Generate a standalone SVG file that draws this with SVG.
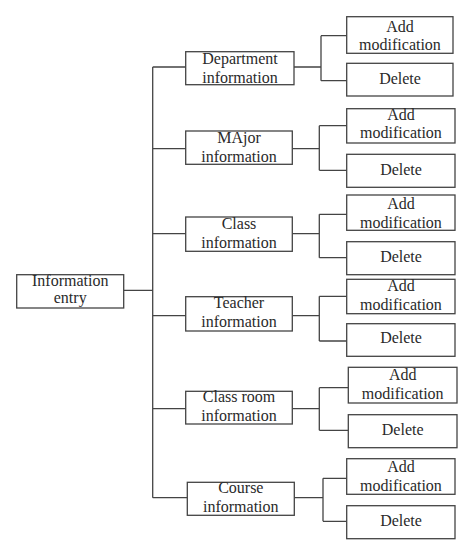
<svg xmlns="http://www.w3.org/2000/svg" width="474" height="556" viewBox="0 0 474 556">
<style>
rect{fill:#fff;stroke:#444;stroke-width:1.3}
text{font-family:"Liberation Serif","Times New Roman",serif;font-size:16px;fill:#2a2a2a;text-anchor:middle}
.c{fill:none;stroke:#444;stroke-width:1.3}
</style>
<rect width="474" height="556" style="stroke:none"/>
<g id="connectors">
<path class="c" d="M124 290.3H152.7M152.7 67V497.7M152.7 67H186M152.7 148.7H186M152.7 233.7H186M152.7 315.7H186M152.7 408.7H186M152.7 497.7H187.3"/>
<path class="c" d="M294 67H321M321 35.7V80.7M321 35.7H347M321 80.7H347"/>
<path class="c" d="M292.3 148.7H319.3M319.3 125.7V170.3M319.3 125.7H347M319.3 170.3H347"/>
<path class="c" d="M292.3 233.7H319.3M319.3 214.3V257.7M319.3 214.3H347M319.3 257.7H347"/>
<path class="c" d="M292.3 315.7H319.3M319.3 296.3V341M319.3 296.3H347M319.3 341H347"/>
<path class="c" d="M292.3 408.7H319.3M319.3 387.7V430.3M319.3 387.7H348.3M319.3 430.3H348.3"/>
<path class="c" d="M294.3 497.7H323M323 478.3V521.3M323 478.3H346.7M323 521.3H346.7"/>
</g>
<g id="info-entry"><rect x="16.7" y="274.7" width="107" height="33.3"/><text x="70.2" y="286">Information</text><text x="70.2" y="303.3">entry</text></g>
<g id="department"><rect x="185.7" y="51.7" width="108.3" height="33"/><text x="240" y="64.3">Department</text><text x="240" y="82.7">information</text></g>
<g id="department-add"><rect x="346.7" y="16.7" width="106.3" height="36.6"/><text x="400" y="31.7">Add</text><text x="400" y="50">modification</text></g>
<g id="department-delete"><rect x="346.7" y="63.3" width="106.3" height="32.7"/><text x="400" y="84">Delete</text></g>
<g id="major"><rect x="185.7" y="131" width="106.6" height="33.3"/><text x="239" y="143.3">MAjor</text><text x="239" y="161.7">information</text></g>
<g id="major-add"><rect x="346.7" y="108.7" width="108.3" height="34.3"/><text x="401" y="120">Add</text><text x="401" y="138.3">modification</text></g>
<g id="major-delete"><rect x="346.7" y="154.3" width="108.3" height="33"/><text x="401" y="175">Delete</text></g>
<g id="class"><rect x="185.7" y="217" width="106.6" height="34.3"/><text x="239" y="229">Class</text><text x="239" y="248">information</text></g>
<g id="class-add"><rect x="346.7" y="195" width="108.3" height="35.3"/><text x="401" y="209.3">Add</text><text x="401" y="227.7">modification</text></g>
<g id="class-delete"><rect x="346.7" y="241.7" width="108.3" height="33"/><text x="401" y="262">Delete</text></g>
<g id="teacher"><rect x="185.7" y="296.7" width="106.6" height="34.3"/><text x="239" y="308.3">Teacher</text><text x="239" y="326.7">information</text></g>
<g id="teacher-add"><rect x="346.7" y="279.3" width="108.3" height="34.4"/><text x="401" y="290.7">Add</text><text x="401" y="310">modification</text></g>
<g id="teacher-delete"><rect x="346.7" y="323.7" width="108.3" height="32.6"/><text x="401" y="343.3">Delete</text></g>
<g id="classroom"><rect x="185.7" y="391.3" width="106.6" height="32.7"/><text x="239" y="402.3">Class room</text><text x="239" y="421">information</text></g>
<g id="classroom-add"><rect x="348.3" y="367.3" width="108.7" height="35.7"/><text x="402.7" y="380">Add</text><text x="402.7" y="399.3">modification</text></g>
<g id="classroom-delete"><rect x="348.3" y="414.7" width="108.7" height="33"/><text x="402.7" y="435">Delete</text></g>
<g id="course"><rect x="187.3" y="482.3" width="107" height="33"/><text x="240.8" y="493.3">Course</text><text x="240.8" y="511.7">information</text></g>
<g id="course-add"><rect x="346.7" y="458.7" width="108.3" height="35.6"/><text x="401" y="471.7">Add</text><text x="401" y="490.7">modification</text></g>
<g id="course-delete"><rect x="346.7" y="505.7" width="108.3" height="33"/><text x="401" y="526">Delete</text></g>
</svg>
